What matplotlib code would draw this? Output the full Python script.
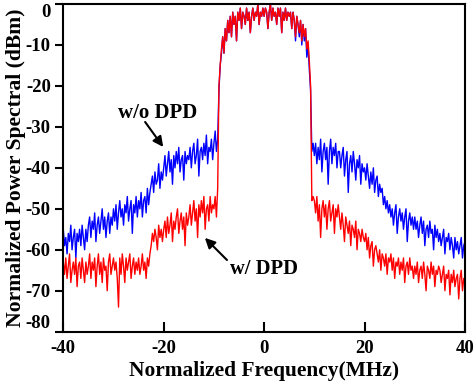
import numpy as np
import matplotlib
matplotlib.use("Agg")
import matplotlib.pyplot as plt

plt.rcParams['font.family'] = ['Liberation Serif', 'DejaVu Serif']
plt.rcParams['font.weight'] = 'bold'

# frequency bins (MHz), 0.25 MHz spacing
freq = np.arange(-40, 40.001, 0.25)

# spectrum without DPD (dBm), 20 bins = 5 MHz per row
psd_no_dpd = [
    -55, -59, -57, -61, -56, -58, -54, -60, -57, -55, -62, -56, -58, -55, -59, -54, -57, -60, -55, -58,
    -54, -52, -57, -53, -55, -51, -58, -54, -52, -56, -53, -50, -55, -52, -57, -53, -51, -56, -52, -54,
    -50, -53, -49, -55, -51, -48, -52, -50, -54, -49, -51, -47, -53, -50, -48, -56, -49, -51, -47, -52,
    -48, -50, -46, -52, -48, -47, -51, -45, -49, -46, -44, -42, -46, -41, -44, -43, -39, -45, -41, -43,
    -40, -37, -42, -39, -36, -41, -38, -44, -37, -40, -36, -39, -35, -41, -38, -37, -43, -36, -39, -37,
    -38, -35, -40, -36, -34, -39, -37, -33, -42, -36, -35, -38, -34, -37, -32, -39, -35, -36, -33, -38,
    -34, -31, -36, -33, -21, -15, -12, -8, -12, -6, -9, -4, -7, -3, -8, -2, -5, -3, -9, -2,
    -4, -1, -6, -2, -3, -5, -1, -4, -2, -7, -3, -1, -4, -2, -3, 0, -5, -2, -3, -1,
    -3, -1, -2, -6, -2, 0, -4, -1, -3, -2, -5, -1, -3, -1, -7, -2, -4, -1, -4, -2,
    -3, -2, -6, -2, -4, -9, -3, -5, -8, -4, -10, -5, -9, -6, -13, -10, -16, -21, -36, -34,
    -37, -34, -39, -35, -38, -33, -41, -36, -34, -38, -35, -44, -36, -33, -39, -35, -37, -34, -40, -36,
    -36, -40, -37, -35, -42, -38, -36, -46, -39, -37, -41, -36, -39, -43, -38, -40, -37, -44, -39, -41,
    -40, -43, -39, -42, -45, -41, -44, -40, -46, -43, -42, -47, -44, -46, -45, -49, -47, -50, -48, -51,
    -49, -52, -50, -54, -51, -49, -56, -52, -50, -53, -51, -55, -52, -50, -58, -53, -51, -54, -52, -55,
    -52, -55, -53, -57, -54, -52, -56, -53, -59, -55, -54, -57, -53, -56, -55, -60, -54, -57, -55, -58,
    -56, -59, -57, -55, -61, -57, -58, -56, -60, -57, -59, -62, -57, -60, -58, -61, -59, -57, -62, -59,
    -58,
]

# spectrum with DPD (dBm)
psd_dpd = [
    -63, -66, -62, -67, -64, -61, -68, -65, -63, -66, -62, -69, -64, -63, -67, -62, -65, -68, -63, -66,
    -64, -61, -67, -63, -65, -62, -69, -64, -61, -66, -63, -68, -62, -65, -64, -70, -63, -61, -66, -64,
    -62, -65, -63, -67, -74, -62, -66, -61, -64, -68, -62, -65, -63, -61, -67, -64, -62, -66, -63, -65,
    -62, -66, -64, -61, -65, -63, -67, -62, -64, -61, -59, -56, -58, -55, -57, -60, -54, -57, -55, -58,
    -55, -53, -57, -52, -56, -54, -51, -58, -53, -55, -52, -50, -56, -53, -51, -55, -52, -59, -51, -54,
    -52, -49, -54, -51, -48, -53, -50, -57, -49, -52, -48, -51, -47, -55, -50, -49, -53, -47, -51, -49,
    -50, -47, -52, -45, -20, -15, -11, -8, -12, -6, -9, -4, -7, -3, -8, -2, -5, -3, -9, -2,
    -4, -1, -6, -2, -3, -5, -1, -4, -2, -7, -3, -1, -4, -2, -3, 0, -5, -2, -3, -1,
    -3, -1, -2, -6, -2, 0, -4, -1, -3, -2, -5, -1, -3, -1, -7, -2, -4, -1, -4, -2,
    -3, -2, -6, -2, -4, -8, -3, -5, -7, -4, -9, -5, -8, -6, -11, -9, -14, -20, -48, -47,
    -48, -51, -47, -53, -49, -57, -50, -48, -52, -49, -55, -50, -48, -53, -51, -49, -56, -50, -52, -49,
    -52, -55, -51, -54, -58, -52, -54, -56, -53, -59, -54, -55, -57, -53, -60, -55, -56, -58, -55, -57,
    -58, -56, -60, -57, -62, -59, -58, -64, -60, -59, -61, -63, -60, -65, -61, -62, -64, -61, -66, -62,
    -63, -61, -65, -62, -67, -63, -64, -62, -66, -63, -65, -62, -68, -64, -63, -66, -62, -65, -64, -67,
    -64, -66, -63, -68, -65, -64, -67, -63, -66, -70, -64, -65, -67, -63, -66, -64, -69, -65, -66, -64,
    -65, -68, -66, -64, -70, -66, -67, -65, -71, -66, -68, -65, -69, -67, -66, -72, -67, -65, -70, -67,
    -68,
]

xticks = [-40, -20, 0, 20, 40]
yticks = [0, -10, -20, -30, -40, -50, -60, -70, -80]

fig = plt.figure(figsize=(4.74, 3.82), dpi=100)
ax = fig.add_axes([0.1335, 0.1317, 0.8475, 0.8578])

ax.plot(freq, psd_no_dpd, color='#0000ff', lw=1.0)
ax.plot(freq, psd_dpd, color='#ff0000', lw=1.0)

ax.set_xlim(-40, 40)
ax.set_ylim(-80, 0)
ax.set_xticks(xticks)
ax.set_yticks(yticks)
ax.set_xticklabels([str(t) for t in xticks])
ax.set_yticklabels([str(t) for t in yticks])
ax.tick_params(axis='x', direction='in', length=7, width=1.5, labelsize=13.5, pad=6)
ax.tick_params(axis='y', direction='out', length=6, width=1.5, labelsize=13.5, pad=3)
for lab in ax.get_xticklabels() + ax.get_yticklabels():
    lab.set_fontweight('bold')
# end labels sit inside the axis range like in the original
ylabs = ax.get_yticklabels()
ylabs[0].set_va('top')
ylabs[-1].set_va('bottom')
for sp in ax.spines.values():
    sp.set_linewidth(1.5)

ax.set_xlabel('Normalized Frequency(MHz)', fontsize=15.4, fontweight='bold', va='top')
ax.xaxis.set_label_coords(0.5, -0.089)
ax.set_ylabel('Normalized Power Spectral (dBm)', fontsize=15.6, fontweight='bold')
ax.yaxis.set_label_coords(-0.094, 0.5)

# annotations
ax.text(-21.2, -26.5, 'w/o DPD', fontsize=15, fontweight='bold', ha='center', va='center')
ax.annotate('', xy=(-20.1, -34.9), xytext=(-23.7, -28.8),
            arrowprops=dict(arrowstyle='-|>,head_length=0.6,head_width=0.3',
                            color='black', lw=1.5, shrinkA=0, shrinkB=0))
ax.text(-0.1, -64.7, 'w/ DPD', fontsize=14.8, fontweight='bold', ha='center', va='center')
ax.annotate('', xy=(-11.8, -57.1), xytext=(-7.4, -62.5),
            arrowprops=dict(arrowstyle='-|>,head_length=0.6,head_width=0.3',
                            color='black', lw=1.5, shrinkA=0, shrinkB=0))

fig.savefig('out.png', dpi=100)
